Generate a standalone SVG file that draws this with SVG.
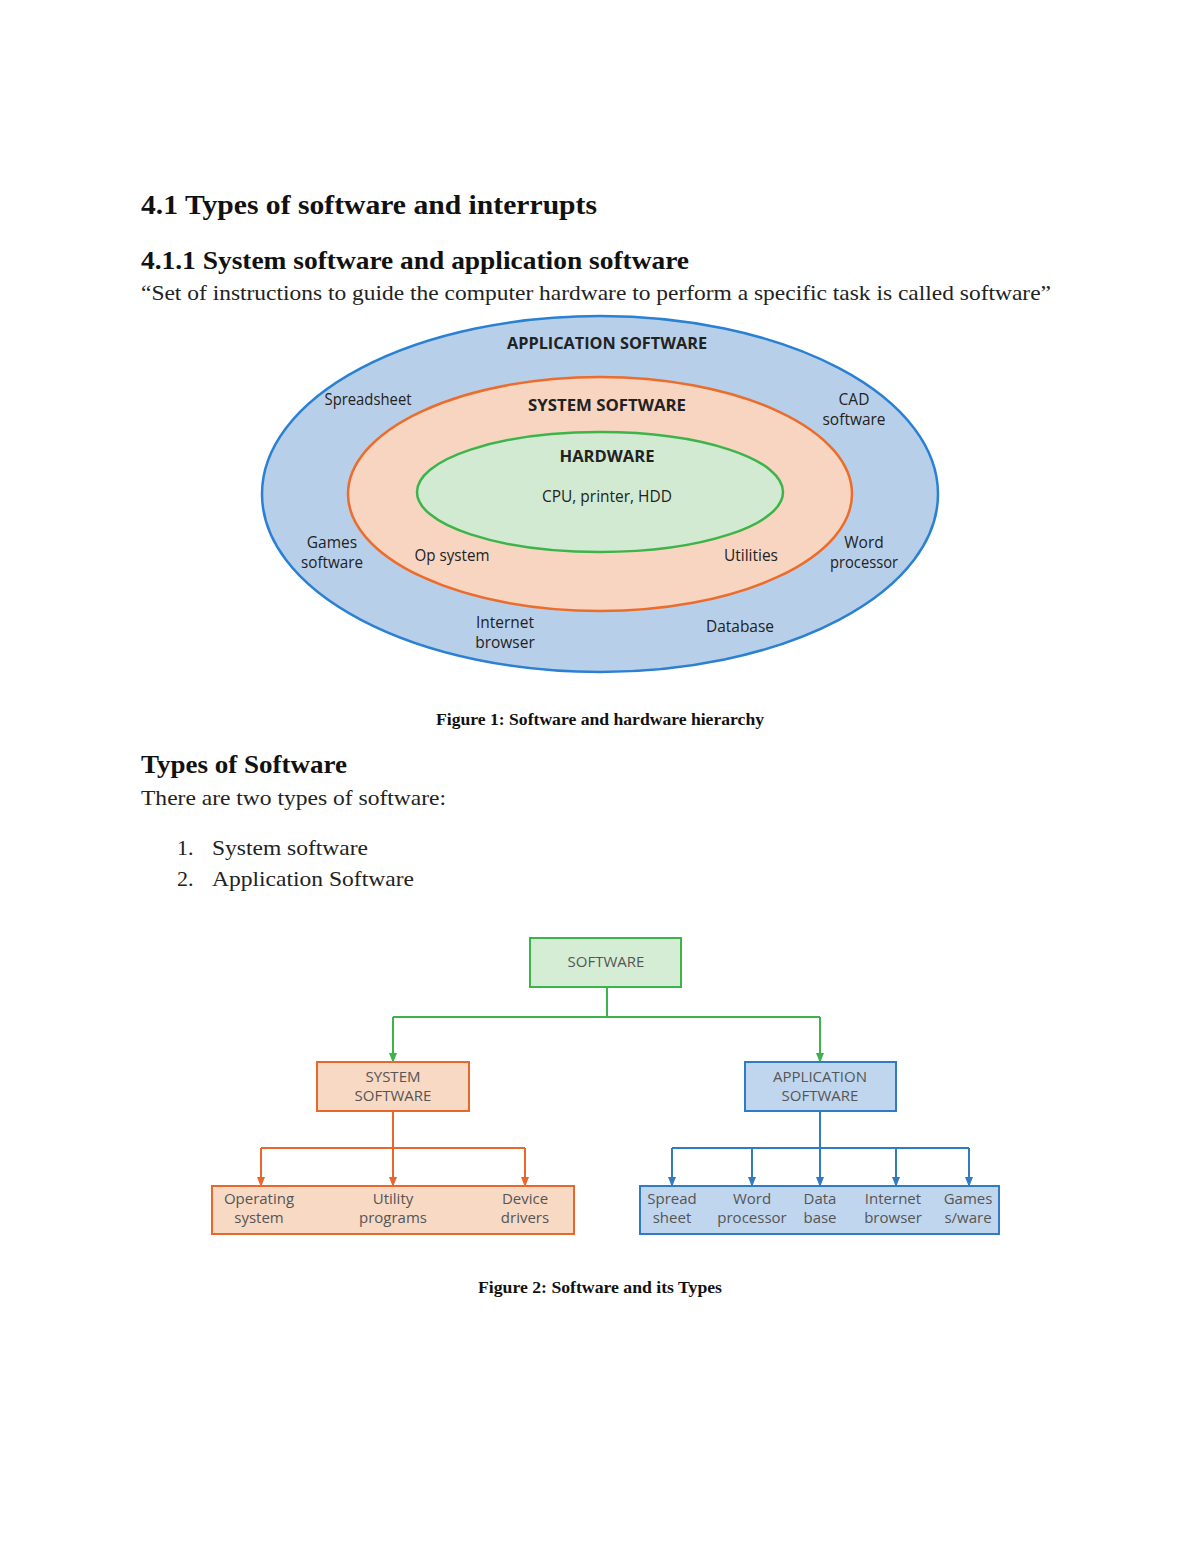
<svg xmlns="http://www.w3.org/2000/svg" width="1200" height="1553" viewBox="0 0 1200 1553">
<style>
.h1{font-family:"Liberation Serif","DejaVu Serif",serif;font-weight:bold;font-size:28px;fill:#111}
.h2{font-family:"Liberation Serif","DejaVu Serif",serif;font-weight:bold;font-size:25px;fill:#111}
.body{font-family:"Liberation Serif","DejaVu Serif",serif;font-size:22px;fill:#222}
.cap{font-family:"Liberation Serif","DejaVu Serif",serif;font-weight:bold;font-size:17px;fill:#111;text-anchor:middle}
.el{font-family:"Open Sans","DejaVu Sans",sans-serif;font-size:15.5px;fill:#222;text-anchor:middle}
.elb{font-family:"Open Sans","DejaVu Sans",sans-serif;font-size:16px;font-weight:bold;fill:#222;text-anchor:middle}
.bx{font-family:"Open Sans","DejaVu Sans",sans-serif;font-size:15px;fill:#555;text-anchor:middle}
.cg{fill:none;stroke:#3cb44a;stroke-width:2}
.co{fill:none;stroke:#e8682c;stroke-width:2}
.cb{fill:none;stroke:#2f7cc4;stroke-width:2}
</style>
<defs>
<marker id="ag" markerWidth="8" markerHeight="10" refX="4" refY="9" markerUnits="userSpaceOnUse" viewBox="0 0 8 10"><path d="M0,0 L8,0 L4,10 Z" fill="#3cb44a"/></marker>
<marker id="ao" markerWidth="8" markerHeight="10" refX="4" refY="9" markerUnits="userSpaceOnUse" viewBox="0 0 8 10"><path d="M0,0 L8,0 L4,10 Z" fill="#e8682c"/></marker>
<marker id="ab" markerWidth="8" markerHeight="10" refX="4" refY="9" markerUnits="userSpaceOnUse" viewBox="0 0 8 10"><path d="M0,0 L8,0 L4,10 Z" fill="#2f7cc4"/></marker>
</defs>
<rect width="1200" height="1553" fill="#fff"/>

<text class="h1" x="141" y="214" textLength="456" lengthAdjust="spacingAndGlyphs">4.1 Types of software and interrupts</text>
<text class="h2" x="141" y="269" textLength="548" lengthAdjust="spacingAndGlyphs">4.1.1 System software and application software</text>
<text class="body" x="141" y="300" textLength="910" lengthAdjust="spacingAndGlyphs">“Set of instructions to guide the computer hardware to perform a specific task is called software”</text>

<g id="ellipses">
<g id="app-ellipse">
<ellipse cx="600" cy="494" rx="338" ry="178" fill="#b8cfe9" stroke="#2a80d2" stroke-width="2.5"/>
<text class="elb" x="607" y="349" textLength="200" lengthAdjust="spacingAndGlyphs">APPLICATION SOFTWARE</text>
<text class="el" x="368" y="405" textLength="87" lengthAdjust="spacingAndGlyphs">Spreadsheet</text>
<text class="el" x="854" y="405">CAD</text>
<text class="el" x="854" y="425" textLength="63" lengthAdjust="spacingAndGlyphs">software</text>
<text class="el" x="332" y="548">Games</text>
<text class="el" x="332" y="568" textLength="62" lengthAdjust="spacingAndGlyphs">software</text>
<text class="el" x="864" y="548">Word</text>
<text class="el" x="864" y="568" textLength="68" lengthAdjust="spacingAndGlyphs">processor</text>
<text class="el" x="505" y="628">Internet</text>
<text class="el" x="505" y="648">browser</text>
<text class="el" x="740" y="632" textLength="68" lengthAdjust="spacingAndGlyphs">Database</text>
</g>
<g id="sys-ellipse">
<ellipse cx="600" cy="494" rx="252" ry="117" fill="#f8d5c0" stroke="#ec6c2c" stroke-width="2.5"/>
<text class="elb" x="607" y="411" textLength="158" lengthAdjust="spacingAndGlyphs">SYSTEM SOFTWARE</text>
<text class="el" x="452" y="561" textLength="75" lengthAdjust="spacingAndGlyphs">Op system</text>
<text class="el" x="751" y="561" textLength="54" lengthAdjust="spacingAndGlyphs">Utilities</text>
</g>
<g id="hw-ellipse">
<ellipse cx="600" cy="492" rx="183" ry="60" fill="#d2ead2" stroke="#3cb44a" stroke-width="2.5"/>
<text class="elb" x="607" y="462" textLength="95" lengthAdjust="spacingAndGlyphs">HARDWARE</text>
<text class="el" x="607" y="502" textLength="130" lengthAdjust="spacingAndGlyphs">CPU, printer, HDD</text>
</g>
</g>

<text class="cap" x="600" y="725" textLength="328" lengthAdjust="spacingAndGlyphs">Figure 1: Software and hardware hierarchy</text>

<text class="h2" x="141" y="773" textLength="206" lengthAdjust="spacingAndGlyphs">Types of Software</text>
<text class="body" x="141" y="805" textLength="305" lengthAdjust="spacingAndGlyphs">There are two types of software:</text>
<text class="body" x="177" y="855">1.</text>
<text class="body" x="212" y="855" textLength="156" lengthAdjust="spacingAndGlyphs">System software</text>
<text class="body" x="177" y="886">2.</text>
<text class="body" x="212" y="886" textLength="202" lengthAdjust="spacingAndGlyphs">Application Software</text>

<g id="connectors">
<path class="cg" d="M607,987 V1017 M393,1017 H820"/>
<path class="cg" d="M393,1017 V1062" marker-end="url(#ag)"/>
<path class="cg" d="M820,1017 V1062" marker-end="url(#ag)"/>
<path class="co" d="M393,1111 V1148 M261,1148 H525"/>
<path class="co" d="M261,1148 V1186" marker-end="url(#ao)"/>
<path class="co" d="M393,1148 V1186" marker-end="url(#ao)"/>
<path class="co" d="M525,1148 V1186" marker-end="url(#ao)"/>
<path class="cb" d="M820,1111 V1148 M672,1148 H969"/>
<path class="cb" d="M672,1148 V1186" marker-end="url(#ab)"/>
<path class="cb" d="M752,1148 V1186" marker-end="url(#ab)"/>
<path class="cb" d="M820,1148 V1186" marker-end="url(#ab)"/>
<path class="cb" d="M896,1148 V1186" marker-end="url(#ab)"/>
<path class="cb" d="M969,1148 V1186" marker-end="url(#ab)"/>
</g>

<g id="software">
<rect x="530" y="938" width="151" height="49" fill="#d5ecd5" stroke="#3cb44a" stroke-width="2"/>
<text class="bx" x="606" y="967">SOFTWARE</text>
</g>
<g id="system-software">
<rect x="317" y="1062" width="152" height="49" fill="#f8d9c3" stroke="#e8682c" stroke-width="2"/>
<text class="bx" x="393" y="1082">SYSTEM</text>
<text class="bx" x="393" y="1101">SOFTWARE</text>
</g>
<g id="application-software">
<rect x="745" y="1062" width="151" height="49" fill="#c0d6ee" stroke="#2f7cc4" stroke-width="2"/>
<text class="bx" x="820" y="1082">APPLICATION</text>
<text class="bx" x="820" y="1101">SOFTWARE</text>
</g>
<g id="system-types">
<rect x="212" y="1186" width="362" height="48" fill="#f8d9c3" stroke="#e8682c" stroke-width="2"/>
<text class="bx" x="259" y="1204">Operating</text>
<text class="bx" x="259" y="1223">system</text>
<text class="bx" x="393" y="1204">Utility</text>
<text class="bx" x="393" y="1223">programs</text>
<text class="bx" x="525" y="1204">Device</text>
<text class="bx" x="525" y="1223">drivers</text>
</g>
<g id="application-types">
<rect x="640" y="1186" width="359" height="48" fill="#c0d6ee" stroke="#2f7cc4" stroke-width="2"/>
<text class="bx" x="672" y="1204">Spread</text>
<text class="bx" x="672" y="1223">sheet</text>
<text class="bx" x="752" y="1204">Word</text>
<text class="bx" x="752" y="1223">processor</text>
<text class="bx" x="820" y="1204">Data</text>
<text class="bx" x="820" y="1223">base</text>
<text class="bx" x="893" y="1204">Internet</text>
<text class="bx" x="893" y="1223">browser</text>
<text class="bx" x="968" y="1204">Games</text>
<text class="bx" x="968" y="1223">s/ware</text>
</g>

<text class="cap" x="600" y="1293" textLength="244" lengthAdjust="spacingAndGlyphs">Figure 2: Software and its Types</text>
</svg>
